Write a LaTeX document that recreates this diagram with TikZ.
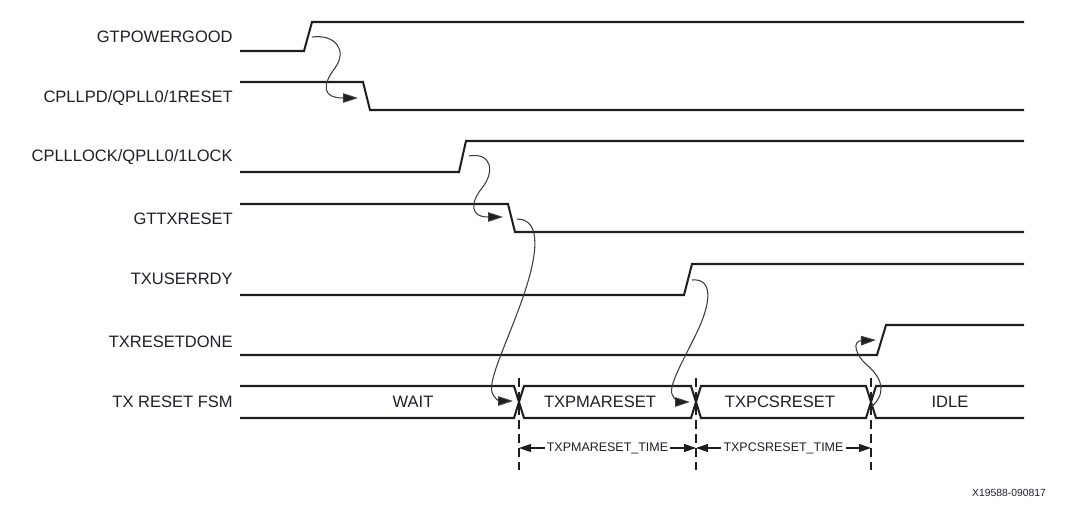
\documentclass[tikz,border=0pt]{standalone}
\usepackage{fontspec}
\setmainfont{Liberation Sans}
\usepackage{xcolor}
\usepackage{tikz}
\usetikzlibrary{arrows.meta,positioning,calc}
\definecolor{wireblack}{HTML}{1E1E1E}
\definecolor{causegrey}{HTML}{3C3C3C}
\definecolor{labelink}{HTML}{1F1F2A}
\tikzset{
  wave/.style={line width=1.15pt, draw=wireblack, line join=miter},
  cause/.style={-{Triangle[length=3mm,width=1.9mm,fill=wireblack]}, line width=0.6pt,
                draw=causegrey},
  dimline/.style={{Triangle[length=2.4mm,width=1.6mm]}-{Triangle[length=2.4mm,width=1.6mm]},
                  line width=0.6pt, draw=wireblack},
  marker/.style={line width=0.6pt, draw=wireblack, dash pattern=on 5pt off 3pt},
  signame/.style={anchor=east, inner sep=0pt, text depth=0pt, text=labelink,
                  font=\fontsize{9.4}{11}\selectfont},
  state/.style={inner sep=0pt, text depth=0pt, text=labelink,
                font=\fontsize{9.4}{11}\selectfont},
  timelbl/.style={fill=white, inner sep=1.2pt, text=labelink,
                  font=\fontsize{7.1}{8}\selectfont},
}

\begin{document}
\begin{tikzpicture}[x=0.02cm, y=-0.02cm]
\useasboundingbox (0,0) rectangle (1080,508);

% ========================= signal names ==================================
\node[signame] (npgood) at (233, 37) {GTPOWERGOOD};
\node[signame] (npllpd) at (233, 97) {CPLLPD/QPLL0/1RESET};
\node[signame] (nplllk) at (233,156) {CPLLLOCK/QPLL0/1LOCK};
\node[signame] (ntxrst) at (233,219) {GTTXRESET};
\node[signame] (nusrdy) at (233,279) {TXUSERRDY};
\node[signame] (nrdone) at (233,342) {TXRESETDONE};
\node[signame] (nfsm)   at (233,402) {TX RESET FSM};

% ========================= waveforms =====================================
\draw[wave] (240, 51) -- (304, 51) -- (312, 22) -- (1024, 22);
\draw[wave] (240, 82) -- (363, 82) -- (370,110) -- (1024,110);
\draw[wave] (240,172) -- (459,172) -- (466,141) -- (1024,141);
\draw[wave] (240,204) -- (508,204) -- (515,232) -- (1024,232);
\draw[wave] (240,295) -- (684,295) -- (692,264) -- (1024,264);
\draw[wave] (240,355) -- (877,355) -- (886,325) -- (1024,325);

% --- the FSM bus ---
\draw[wave] (240,386) -- (514,386) -- (519,402) -- (514,418) -- (240,418);
\draw[wave] (524,386) -- (691,386) -- (696,402) -- (691,418) -- (524,418) -- (519,402) -- cycle;
\draw[wave] (701,386) -- (866,386) -- (871,402) -- (866,418) -- (701,418) -- (696,402) -- cycle;
\draw[wave] (1024,386) -- (876,386) -- (871,402) -- (876,418) -- (1024,418);

\node[state] (swait) at (413,402) {WAIT};
\node[state] (spma)  at (600,402) {TXPMARESET};
\node[state] (spcs)  at (780,402) {TXPCSRESET};
\node[state] (sidle) at (950,402) {IDLE};

% ========================= cause -> effect ===============================
\coordinate (pgrise) at (312, 37);  \coordinate (pdfall) at (358, 98);
\coordinate (lkrise) at (469,156);  \coordinate (rsfall) at (503,217);
\coordinate (rsend)  at (517,219);  \coordinate (topma)  at (513,401);
\coordinate (urrise) at (692,280);  \coordinate (topcs)  at (690,402);
\coordinate (fsmidl) at (870,408);  \coordinate (dnrise) at (876,340);

\draw[cause] (pgrise) .. controls (335,34) and (348,50) .. (335,68)
                      .. controls (322,85) and (322,98) .. (pdfall);
\draw[cause] (lkrise) .. controls (492,152) and (495,172) .. (482,188)
                      .. controls (470,203) and (470,217) .. (rsfall);
\draw[cause] (rsend)  .. controls (542,219) and (538,255) .. (522,300)
                      .. controls (508,340) and (488,380) .. (492,392)
                      .. controls (494,399) and (500,401) .. (topma);
\draw[cause] (urrise) .. controls (712,278) and (712,300) .. (698,330)
                      .. controls (688,352) and (668,385) .. (672,394)
                      .. controls (674,400) and (680,402) .. (topcs);
\draw[cause] (fsmidl) .. controls (886,395) and (884,380) .. (868,366)
                      .. controls (855,355) and (852,341) .. (dnrise);

% ========================= timing markers ================================
\coordinate (mk1) at (519,448);
\coordinate (mk2) at (696,448);
\coordinate (mk3) at (871,448);
\draw[marker] (519,378) -- (519,470);
\draw[marker] (696,378) -- (696,470);
\draw[marker] (871,378) -- (871,470);

\draw[dimline] (mk1) -- node[timelbl] (tpma) {TXPMARESET\_TIME} (mk2);
\draw[dimline] (mk2) -- node[timelbl] (tpcs) {TXPCSRESET\_TIME} (mk3);

\node[font=\fontsize{5.9}{7}\selectfont, text=labelink] (fignum) at (1009,493) {X19588-090817};
\end{tikzpicture}
\end{document}
